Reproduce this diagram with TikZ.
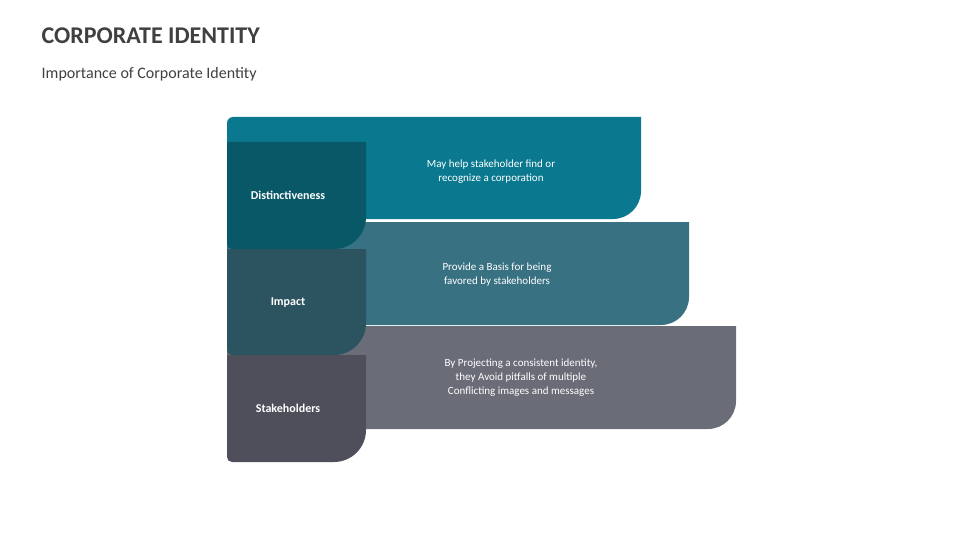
\documentclass[tikz,border=0pt]{standalone}
\usepackage{fontspec}
\setmainfont{Carlito}
\definecolor{barA}{RGB}{10,121,143}
\definecolor{tabA}{RGB}{8,88,103}
\definecolor{barB}{RGB}{56,113,130}
\definecolor{tabB}{RGB}{43,83,96}
\definecolor{barC}{RGB}{106,108,120}
\definecolor{tabC}{RGB}{78,79,90}
\definecolor{titlegray}{RGB}{64,64,64}
\tikzset{every picture/.style={line width=0.75pt}}
\tikzset{
  tabtext/.style={text=white,font=\bfseries\fontsize{12}{14}\selectfont},
  bartext/.style={text=white,align=center,font=\fontsize{11}{14}\selectfont}
}
\begin{document}
\begin{tikzpicture}[x=1pt,y=-1pt]
	\useasboundingbox (0,0) rectangle (960,540);
	% Title
	\node[anchor=west,text=titlegray,font=\bfseries\fontsize{24}{28}\selectfont] (title) at (38,36) {CORPORATE IDENTITY};
	\node[anchor=west,text=titlegray,font=\fontsize{16}{19}\selectfont] (subtitle) at (38,74) {Importance of Corporate Identity};

	% Bars
	\fill[barC] (227,326) -- (736,326) -- (736,401) arc[start angle=0,end angle=90,radius=28] -- (227,429) -- cycle;
	\fill[barB] (227,222) -- (689,222) -- (689,297) arc[start angle=0,end angle=90,radius=28] -- (227,325) -- cycle;
	\fill[barA] (233,117) -- (641,117) -- (641,191) arc[start angle=0,end angle=90,radius=28] -- (227,219) -- (227,123) arc[start angle=180,end angle=270,radius=6] -- cycle;

	% Tabs
	\fill[tabC] (227,355) -- (366,355) -- (366,430) arc[start angle=0,end angle=90,radius=32] -- (232,462) arc[start angle=90,end angle=180,radius=5] -- cycle;
	\fill[tabB] (227,249) -- (366,249) -- (366,323) arc[start angle=0,end angle=90,radius=32] -- (232,355) arc[start angle=90,end angle=180,radius=5] -- cycle;
	\fill[tabA] (227,142) -- (366,142) -- (366,217) arc[start angle=0,end angle=90,radius=32] -- (232,249) arc[start angle=90,end angle=180,radius=5] -- cycle;

	% Text Node
	\node[tabtext] (distinct) at (288,195) {Distinctiveness};
	\node[tabtext] (impact) at (288,303) {Impact};
	\node[tabtext] (stake) at (288,408) {Stakeholders};
	\node[bartext] (helpA) at (491,172) {May help stakeholder find or\\recognize a corporation};
	\node[bartext] (helpB) at (497,275) {Provide a Basis for being\\favored by stakeholders};
	\node[bartext] (helpC) at (521,378) {By Projecting a consistent identity,\\they Avoid pitfalls of multiple\\Conflicting images and messages};
\end{tikzpicture}
\end{document}
